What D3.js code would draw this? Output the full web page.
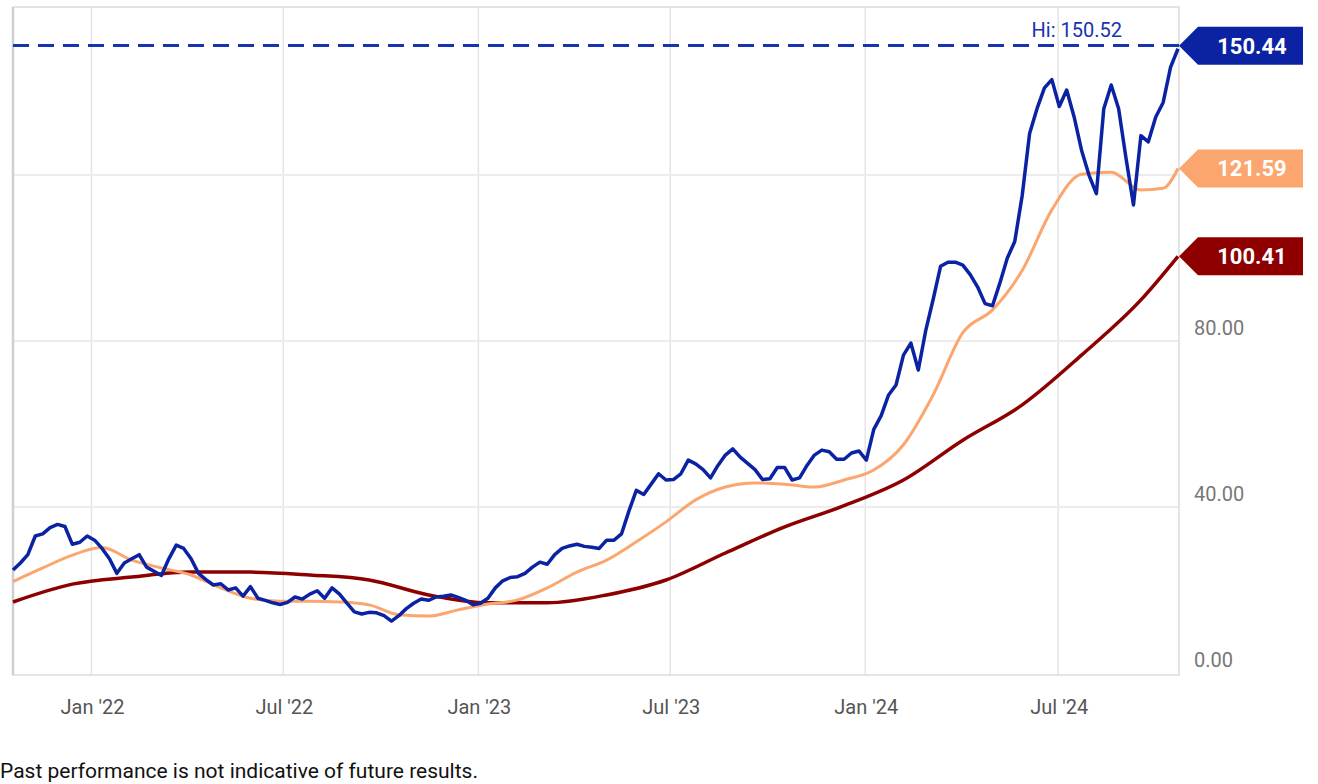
<!DOCTYPE html>
<html>
<head>
<meta charset="utf-8">
<script src="https://cdn.jsdelivr.net/npm/d3@7"></script>
<style>
  body { margin: 0; background: #fff; font-family: Roboto, "Noto Sans", sans-serif; }
</style>
</head>
<body>
<svg id="chart" width="1318" height="784"></svg>
<script>
// weekly closes, starting week of Oct 19 2021
const startDate = new Date(2021, 9, 19);
const price = [24.8,26.5,28.5,33,33.5,35,35.8,35.3,31,31.5,33,32,30,27.5,24,26.5,27.5,28.5,25.5,24.5,
  23.5,27.5,30.8,30,27.5,24,22.5,21.2,21.5,20,20.5,18.5,20.8,18,17.5,16.9,16.5,17,18.3,17.8,
  19,19.8,18,20.5,19,16.8,14.7,14.2,14.6,14.5,13.8,12.5,13.8,15.5,16.8,17.8,17.5,18.3,18.5,18.8,
  18.2,17.5,16.4,16.8,18,20.5,22.2,23,23.2,24,25.5,26.7,26.2,28.5,30,30.6,31,30.5,30.3,30,
  32,32,33.5,39,44,43,45.5,48,46.5,46.6,48,51.3,50.4,49,47,50,52.5,54,52,50.5,
  49,46.6,46.8,49.5,49.5,46.5,47,50,52.5,53.7,53.3,51.5,51.5,53,53.5,51.3,58.7,62,67,69.4,
  76.6,79.5,73,82.5,90,98,99,99,98.3,96,93,89,88.5,94,100,104,115,130,136,141,
  143,136.5,140.5,134,126,120,115.5,136,141.7,136,124,112.8,129.5,128,134,137.5,146,150.44];
// [week index, value]
const ma50 = [[0,22],[4,25.3],[8,28.4],[12,30.2],[16,27.2],[20,25.3],[24,23.6],[28,20.5],[32,18],[36,17.3],
  [40,17.3],[44,17.1],[48,16.4],[52,14],[56,13.7],[60,15.2],[64,16.6],[68,17.6],[72,20.5],[76,24.3],
  [80,27.2],[84,31.6],[88,36.4],[92,41.7],[96,44.8],[100,45.8],[104,45.5],[108,44.8],[112,46.5],[116,48.9],
  [120,55],[124,67],[128,82],[132,87.5],[136,97],[140,111.6],[144,120.2],[148,120.7],[152,116.4],[155,116.8],[157,121.59]];
const ma200 = [[0,17.1],[8,21.4],[16,23.1],[24,24.3],[32,24.3],[40,23.6],[48,22.4],[56,18.8],[64,16.9],[72,16.9],
  [80,18.8],[88,22.4],[96,28.9],[104,35.2],[112,40.3],[120,46.5],[128,56.1],[136,64.6],[144,76.6],[152,89.9],[157,100.41]];
const yTicks = [0, 40, 80, 120];
const hiValue = 150.52;
const tags = [
  {value: 150.44, text: "150.44", color: "#0b23a3"},
  {value: 121.59, text: "121.59", color: "#fba66e"},
  {value: 100.41, text: "100.41", color: "#8e0000"}
];

const weekDate = i => d3.timeDay.offset(startDate, i * 7);
const svg = d3.select("#chart");
const pL = 13, pR = 1179, pT = 7, pB = 675;

const x = d3.scaleTime().domain([weekDate(0), weekDate(price.length - 1)]).range([pL, pR - 1]);
const y = d3.scaleLinear().domain([-0.5, 160.5]).range([pB, pT]);

// grid
svg.append("g").selectAll("line").data(x.ticks(d3.timeMonth.every(6))).join("line")
  .attr("x1", d => x(d)).attr("x2", d => x(d)).attr("y1", pT).attr("y2", pB)
  .attr("stroke", "#e4e4e4").attr("stroke-width", 1.5);
svg.append("g").selectAll("line").data(yTicks.slice(1)).join("line")
  .attr("x1", pL).attr("x2", pR).attr("y1", d => y(d)).attr("y2", d => y(d))
  .attr("stroke", "#ececec").attr("stroke-width", 2);
svg.append("rect").attr("x", pL).attr("y", pT).attr("width", pR - pL).attr("height", pB - pT)
  .attr("fill", "none").attr("stroke", "#dcdcdc").attr("stroke-width", 1.5);
svg.append("line").attr("x1", pL).attr("x2", pL).attr("y1", pT).attr("y2", pB)
  .attr("stroke", "#cfcfcf").attr("stroke-width", 2.5);

// x axis labels
const fmt = d3.timeFormat("%b '%y");
svg.append("g").selectAll("text").data(x.ticks(d3.timeMonth.every(6))).join("text")
  .attr("x", d => x(d) + 1).attr("y", 714).attr("text-anchor", "middle")
  .attr("font-size", 20).attr("fill", "#555").text(d => fmt(d));

// y axis labels
svg.append("g").selectAll("text").data(yTicks.filter(d => d < 100)).join("text")
  .attr("x", 1194).attr("y", d => y(d) - 6).attr("font-size", 20).attr("fill", "#777")
  .text(d => d.toFixed(2));

// high line
svg.append("line").attr("x1", pL).attr("x2", pR).attr("y1", y(hiValue) - 3).attr("y2", y(hiValue) - 3)
  .attr("stroke", "#1733b0").attr("stroke-width", 3).attr("stroke-dasharray", "16,9");
svg.append("text").attr("x", 1122).attr("y", y(hiValue) - 11).attr("text-anchor", "end")
  .attr("font-size", 20).attr("fill", "#1733b0").text("Hi: " + hiValue.toFixed(2));

// lines
const line = d3.line().x(d => x(weekDate(d[0]))).y(d => y(d[1]));
svg.append("path").datum(ma200).attr("d", line.curve(d3.curveMonotoneX)).attr("fill", "none")
  .attr("stroke", "#8e0000").attr("stroke-width", 3.5);
svg.append("path").datum(ma50).attr("d", line.curve(d3.curveMonotoneX)).attr("fill", "none")
  .attr("stroke", "#fba66e").attr("stroke-width", 3);
svg.append("path").datum(price.map((v, i) => [i, v])).attr("d", line.curve(d3.curveLinear)).attr("fill", "none")
  .attr("stroke", "#0b23a3").attr("stroke-width", 3.5).attr("stroke-linejoin", "round");

// value tags
const tg = svg.append("g").selectAll("g").data(tags).join("g")
  .attr("transform", d => `translate(${pR},${y(d.value) - (d.value > 150 ? 3 : 0)})`);
tg.append("path").attr("d", "M0,0 L19,-19 L124,-19 L124,19 L19,19 Z").attr("fill", d => d.color);
tg.append("text").attr("x", 73).attr("y", 8).attr("text-anchor", "middle").attr("font-size", 22)
  .attr("font-weight", "bold").attr("fill", "#fff").text(d => d.text);

svg.append("text").attr("x", 0).attr("y", 778).attr("font-size", 21).attr("fill", "#111")
  .text("Past performance is not indicative of future results.");
</script>
</body>
</html>
